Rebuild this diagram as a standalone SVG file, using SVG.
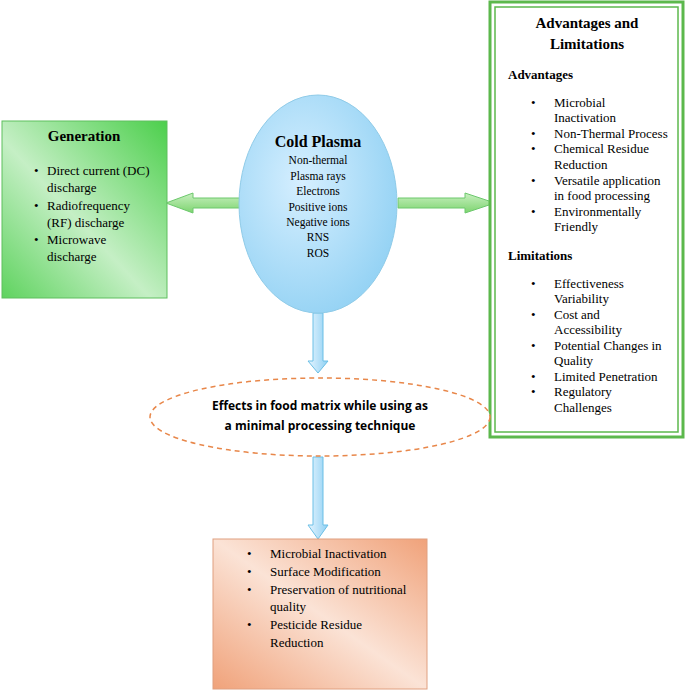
<svg xmlns="http://www.w3.org/2000/svg" width="685" height="692" viewBox="0 0 685 692">
<style>
.s{font-family:"Liberation Serif",serif;fill:#000}
.b{font-weight:bold}
.c{text-anchor:middle}
.sa{font-family:"Open Sans","Liberation Sans",sans-serif;font-weight:bold;font-size:12px;text-anchor:middle}
</style>
<defs>
<linearGradient id="gg" x1="1" y1="0" x2="0" y2="1"><stop offset="0" stop-color="#4ccf4c"/><stop offset="0.55" stop-color="#c5efc5"/><stop offset="1" stop-color="#5fd35f"/></linearGradient>
<radialGradient id="bg" cx="0.4" cy="0.4" r="0.7"><stop offset="0" stop-color="#d6efff"/><stop offset="1" stop-color="#8fd0f3"/></radialGradient>
<linearGradient id="og" x1="0" y1="1" x2="1" y2="0"><stop offset="0" stop-color="#f0a27a"/><stop offset="0.5" stop-color="#fbe3d6"/><stop offset="1" stop-color="#f0a27a"/></linearGradient>
<linearGradient id="ga" x1="0" y1="0" x2="0" y2="1"><stop offset="0" stop-color="#c8f0c0"/><stop offset="1" stop-color="#7dd46f"/></linearGradient>
<linearGradient id="ba" x1="0" y1="0" x2="1" y2="0"><stop offset="0" stop-color="#e6f5ff"/><stop offset="1" stop-color="#8fd0f3"/></linearGradient>
</defs>
<g id="generation">
<rect x="2" y="121" width="165" height="177" fill="url(#gg)" stroke="#5fbf5f"/>
<text class="s b c" x="84" y="141" font-size="15">Generation</text>
<g class="s" font-size="13">
<text x="34" y="175">•</text><text x="47" y="175">Direct current (DC)</text><text x="47" y="192">discharge</text>
<text x="34" y="210">•</text><text x="47" y="210">Radiofrequency</text><text x="47" y="227">(RF) discharge</text>
<text x="34" y="244">•</text><text x="47" y="244">Microwave</text><text x="47" y="261">discharge</text>
</g>
</g>
<g id="connectors">
<path d="M240,198 H193 V193 L166,203 L193,213 V208 H240 Z" fill="url(#ga)" stroke="#6cc86c"/>
<path d="M398,198 H465 V193 L495,203 L465,213 V208 H398 Z" fill="url(#ga)" stroke="#6cc86c"/>
<path d="M313,313 V361 H308 L318,373 L328,361 H323 V313 Z" fill="url(#ba)" stroke="#6bbfe6"/>
<path d="M313,457 V525 H308 L318,539 L328,525 H323 V457 Z" fill="url(#ba)" stroke="#6bbfe6"/>
</g>
<g id="cold-plasma">
<ellipse cx="318" cy="204" rx="79" ry="109" fill="url(#bg)" stroke="#8fcbe8"/>
<text class="s b c" x="318" y="147" font-size="16">Cold Plasma</text>
<g class="s c" font-size="11.5">
<text x="318" y="164">Non-thermal</text><text x="318" y="180">Plasma rays</text><text x="318" y="195">Electrons</text>
<text x="318" y="211">Positive ions</text><text x="318" y="226">Negative ions</text><text x="318" y="241">RNS</text><text x="318" y="257">ROS</text>
</g>
</g>
<g id="advantages">
<rect x="490" y="2" width="193" height="435" fill="#fff" stroke="#5cb84c" stroke-width="3"/>
<rect x="495" y="7" width="183" height="425" fill="none" stroke="#5cb84c" stroke-width="1.5"/>
<text class="s b c" x="587" y="28" font-size="15">Advantages and</text>
<text class="s b c" x="587" y="49" font-size="15">Limitations</text>
<g class="s" font-size="13">
<text class="b" x="508" y="79">Advantages</text>
<text x="531" y="107">•</text><text x="554" y="107">Microbial</text><text x="554" y="122">Inactivation</text>
<text x="531" y="138">•</text><text x="554" y="138">Non-Thermal Process</text>
<text x="531" y="153">•</text><text x="554" y="153">Chemical Residue</text><text x="554" y="169">Reduction</text>
<text x="531" y="185">•</text><text x="554" y="185">Versatile application</text><text x="554" y="200">in food processing</text>
<text x="531" y="216">•</text><text x="554" y="216">Environmentally</text><text x="554" y="231">Friendly</text>
<text class="b" x="508" y="260">Limitations</text>
<text x="531" y="288">•</text><text x="554" y="288">Effectiveness</text><text x="554" y="303">Variability</text>
<text x="531" y="319">•</text><text x="554" y="319">Cost and</text><text x="554" y="334">Accessibility</text>
<text x="531" y="350">•</text><text x="554" y="350">Potential Changes in</text><text x="554" y="365">Quality</text>
<text x="531" y="381">•</text><text x="554" y="381">Limited Penetration</text>
<text x="531" y="396">•</text><text x="554" y="396">Regulatory</text><text x="554" y="412">Challenges</text>
</g>
</g>
<g id="effects">
<ellipse cx="320" cy="417" rx="170" ry="39" fill="#fff" stroke="#e8874a" stroke-width="1.5" stroke-dasharray="5,4"/>
<text class="sa" x="320" y="410">Effects in food matrix while using as</text>
<text class="sa" x="320" y="430">a minimal processing technique</text>
</g>
<g id="effects-list">
<rect x="213" y="539" width="214" height="150" fill="url(#og)" stroke="#e0a080"/>
<g class="s" font-size="13">
<text x="247" y="558">•</text><text x="270" y="558">Microbial Inactivation</text>
<text x="247" y="576">•</text><text x="270" y="576">Surface Modification</text>
<text x="247" y="594">•</text><text x="270" y="594">Preservation of nutritional</text><text x="270" y="611">quality</text>
<text x="247" y="629">•</text><text x="270" y="629">Pesticide Residue</text><text x="270" y="647">Reduction</text>
</g>
</g>
</svg>
